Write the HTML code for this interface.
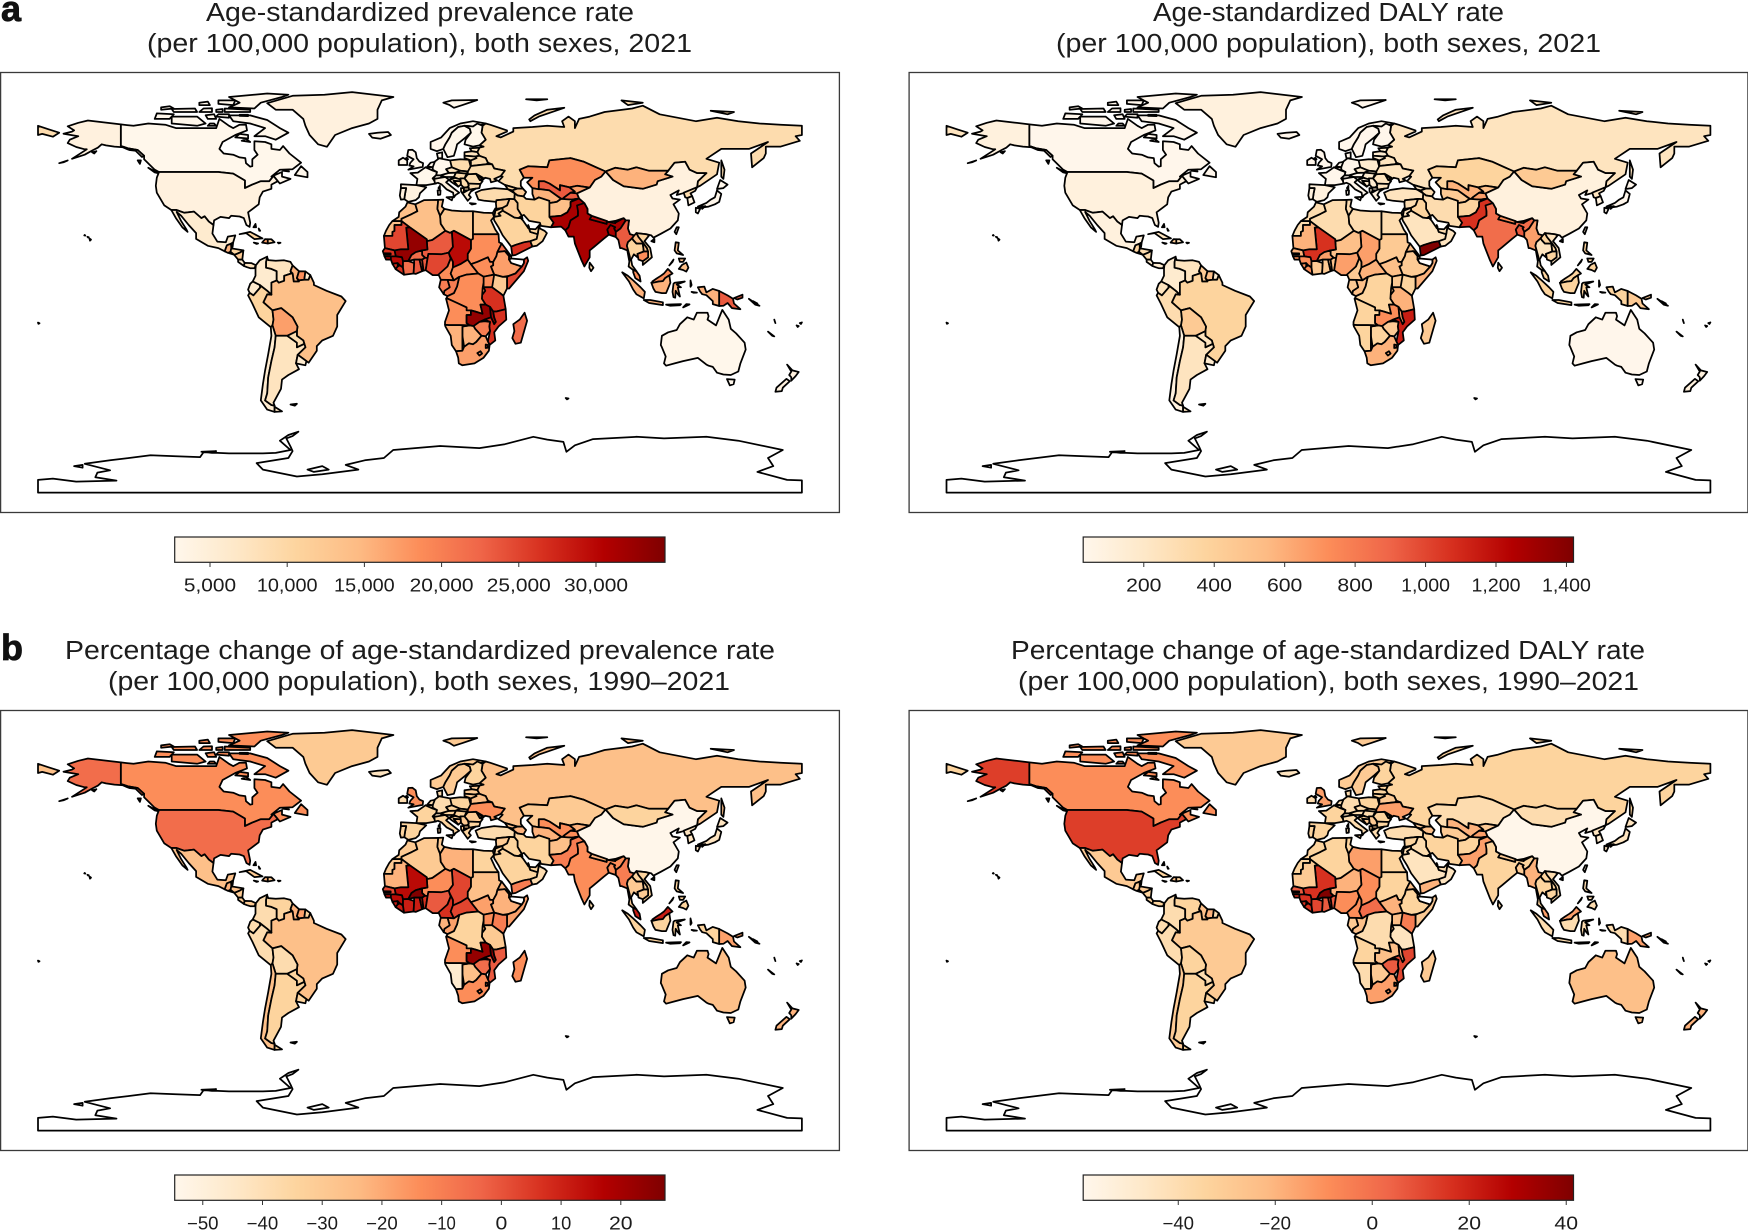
<!DOCTYPE html>
<html lang="en">
<head>
<meta charset="utf-8">
<title>Age-standardized prevalence and DALY rates, world maps</title>
<style>
html,body{margin:0;padding:0;background:#fff;}
body{width:1748px;height:1231px;overflow:hidden;}
svg{display:block;font-family:"Liberation Sans",sans-serif;}
</style>
</head>
<body>
<svg id="figure" xmlns="http://www.w3.org/2000/svg" width="1748" height="1231" viewBox="0 0 1748 1231">
<defs>
<linearGradient id="orrd" x1="0" x2="1" y1="0" y2="0">
<stop offset="0" stop-color="#fff7ec"/><stop offset="0.125" stop-color="#fee8c8"/><stop offset="0.25" stop-color="#fdd49e"/><stop offset="0.375" stop-color="#fdbb84"/><stop offset="0.5" stop-color="#fc8d59"/><stop offset="0.625" stop-color="#ef6548"/><stop offset="0.75" stop-color="#d7301f"/><stop offset="0.875" stop-color="#b30000"/><stop offset="1" stop-color="#7f0000"/>
</linearGradient>
</defs>
<text x="1" y="21" font-size="36" font-weight="700" fill="#111" stroke="#111" stroke-width="0.8">a</text>
<text x="1" y="660" font-size="36" font-weight="700" fill="#111" stroke="#111" stroke-width="0.8">b</text>
<g fill="#1c1c1c" font-size="25.5">
<text x="206" y="21" textLength="428" lengthAdjust="spacingAndGlyphs">Age-standardized prevalence rate</text>
<text x="147" y="52" textLength="545" lengthAdjust="spacingAndGlyphs">(per 100,000 population), both sexes, 2021</text>
<text x="1153" y="21" textLength="351" lengthAdjust="spacingAndGlyphs">Age-standardized DALY rate</text>
<text x="1056" y="52" textLength="545" lengthAdjust="spacingAndGlyphs">(per 100,000 population), both sexes, 2021</text>
<text x="65" y="659" textLength="710" lengthAdjust="spacingAndGlyphs">Percentage change of age-standardized prevalence rate</text>
<text x="108" y="690" textLength="622" lengthAdjust="spacingAndGlyphs">(per 100,000 population), both sexes, 1990–2021</text>
<text x="1011" y="659" textLength="634" lengthAdjust="spacingAndGlyphs">Percentage change of age-standardized DALY rate</text>
<text x="1018" y="690" textLength="621" lengthAdjust="spacingAndGlyphs">(per 100,000 population), both sexes, 1990–2021</text>
</g>
</svg>
<script>
// ---------- data: one value per country, same order as countryNames ----------
const countryNames = [
"Canada","USA","Greenland","Mexico","Guatemala","Belize","Honduras","El Salvador","Nicaragua","Costa Rica","Panama","Cuba","Haiti","Dominican Republic","Jamaica","Puerto Rico",
"Colombia","Venezuela","Guyana","Suriname","French Guiana","Brazil","Ecuador","Peru","Bolivia","Chile","Argentina","Paraguay","Uruguay","Falkland Islands",
"Russia","Norway","Sweden","Finland","Denmark","Iceland","Estonia","Latvia","Lithuania","Belarus","Poland","Germany","Netherlands","Belgium","France","Switzerland","Austria","Italy","Spain","Portugal","UK","Ireland","Czechia","Slovakia","Hungary","Romania","Moldova","Ukraine","Bulgaria","Greece","Albania","North Macedonia","Serbia","Bosnia","Croatia","Slovenia",
"Turkey","Georgia","Azerbaijan","Iran","Iraq","Syria","Jordan","Israel","Saudi Arabia","Yemen","Oman","UAE","Qatar","Kuwait",
"Kazakhstan","Uzbekistan","Turkmenistan","Kyrgyzstan","Tajikistan","Afghanistan","Pakistan","India","Nepal","Bhutan","Bangladesh","Sri Lanka","China","Mongolia","Taiwan","North Korea","South Korea","Japan",
"Myanmar","Thailand","Laos","Vietnam","Cambodia","Malaysia","Indonesia","Philippines","Papua New Guinea","Timor-Leste","Australia","New Zealand","Madagascar","Pacific Islands",
"Morocco","Western Sahara","Algeria","Tunisia","Libya","Egypt","Sudan","Chad","Niger","Mali","Mauritania","Senegal","Gambia","Guinea-Bissau","Guinea","Sierra Leone","Liberia","Ivory Coast","Burkina Faso","Ghana","Togo","Benin","Nigeria","Cameroon","Central African Republic","South Sudan","Eritrea","Ethiopia","Djibouti","Somalia","Somaliland","Kenya","Uganda","Rwanda-Burundi","Tanzania","DR Congo","Congo","Gabon","Angola","Zambia","Malawi","Mozambique","Zimbabwe","Botswana","Namibia","South Africa","Lesotho","Eswatini"
];
const prevalenceRate2021 = [
2800,4300,4300,5900,15400,9100,10700,12200,12200,5900,7500,10700,17000,10700,9100,5900,
5900,7500,15400,18600,5900,13800,5900,10700,17000,5900,7500,9100,5900,2800,
9100,2800,2800,2800,2800,2800,7500,7500,7500,9100,9100,2800,2800,2800,2800,2800,4300,4300,4300,4300,2800,2800,7500,9100,9100,9100,10700,9100,9100,5900,9100,9100,9100,9100,7500,5900,
9100,10700,12200,10700,12200,12200,10700,4300,10700,26500,10700,10700,10700,10700,
18600,23400,15400,17000,23400,13800,31300,31300,29700,15400,31300,9100,4300,15400,4300,9100,4300,2800,
23400,10700,13800,10700,18600,18600,15400,13800,23400,13800,2800,4300,21800,10700,
13800,13800,13800,13800,12200,12200,18600,29700,23400,32900,24900,26500,34400,31300,29700,26500,26500,21800,21800,23400,23400,23400,24900,18600,18600,18600,21800,17000,18600,24900,null,12200,18600,18600,26500,18600,20200,20200,18600,32900,31300,26500,20200,15400,15400,17000,18600,26500
];
const dalyRate2021 = [
35,100,100,100,375,240,305,375,305,170,170,240,445,240,240,100,
170,240,445,515,170,375,240,305,445,100,240,240,170,35,
240,35,35,35,35,35,170,170,170,240,170,35,35,35,35,35,35,35,100,100,35,35,170,170,170,240,240,240,240,100,170,170,170,170,100,100,
240,240,305,305,375,305,240,100,240,1415,240,305,305,305,
375,585,445,515,655,375,1070,865,725,445,935,240,100,445,100,240,100,35,
655,240,375,240,375,375,375,375,445,375,35,100,445,240,
305,305,305,305,305,305,445,655,515,1070,585,585,1415,725,725,725,725,445,655,445,515,515,655,445,585,515,515,445,515,585,null,375,445,515,585,375,515,445,375,725,655,1140,445,375,375,585,585,865
];
const prevalenceChange = [
-13.6,-5.4,-30,-26,-21.9,-30,-26,-26,-30,-30,-30,-30,-21.9,-30,-34.2,-34.2,
-38.3,-34.2,-21.9,-17.8,-34.2,-26,-38.3,-38.3,-38.3,-26,-34.2,-34.2,-34.2,-54,
-26,-30,-30,-34.2,-38.3,-42.4,-30,-30,-30,-26,-34.2,-38.3,-38.3,-38.3,-34.2,-42.4,-34.2,-34.2,-34.2,-34.2,-13.6,-38.3,-34.2,-34.2,-34.2,-30,-26,-13.6,-34.2,-34.2,-30,-30,-30,-26,-34.2,-34.2,
-38.3,-26,-21.9,-34.2,-34.2,-30,-34.2,-38.3,-34.2,-9.5,-38.3,-34.2,-34.2,-34.2,
-30,-13.6,-21.9,-21.9,-13.6,-26,-9.5,-13.6,-21.9,-30,-13.6,-38.3,-54,-34.2,-50.6,-42.4,-42.4,-42.4,
-9.5,-30,-34.2,-34.2,-30,11,-34.2,-34.2,-17.8,-38.3,-26,-21.9,-13.6,-34.2,
-30,-30,-30,-30,-21.9,-34.2,-26,2.8,-13.6,15,-21.9,2.8,19,15,15,11,11,11,27,11,11,6.9,-1.3,6.9,2.8,-17.8,-21.9,-21.9,-21.9,-17.8,null,-9.5,-13.6,-17.8,-30,-34.2,-17.8,-21.9,-13.6,23,23,-1.3,-5.4,-26,-46.5,-13.6,-13.6,-5.4
];
const dalyChange = [
-9,13,-29.3,-29.3,-29.3,-34.3,-29.3,-29.3,-34.3,-34.3,-34.3,-34.3,-24.2,-34.3,-39.4,-39.4,
-39.4,-34.3,-24.2,-19.2,-39.4,-29.3,-39.4,-39.4,-34.3,-29.3,-34.3,-39.4,-34.3,-59,
-34.3,-29.3,-29.3,-34.3,-39.4,-44.4,-34.3,-34.3,-34.3,-29.3,-34.3,-39.4,-39.4,-39.4,-34.3,-44.4,-39.4,-39.4,-34.3,-34.3,-14.1,-39.4,-39.4,-39.4,-39.4,-34.3,-29.3,-14.1,-34.3,-39.4,-29.3,-29.3,-29.3,-29.3,-34.3,-34.3,
-39.4,-29.3,-24.2,-34.3,-39.4,-34.3,-39.4,-39.4,-44.4,-19.2,-44.4,-39.4,-39.4,-39.4,
-39.4,-19.2,-29.3,-29.3,-14.1,-34.3,-14.1,-34.3,-29.3,-34.3,-29.3,-39.4,-59,-39.4,-54.5,-44.4,-49.5,-44.4,
-19.2,-34.3,-34.3,-39.4,-34.3,-14.1,-39.4,-39.4,-14.1,-39.4,-24.2,-19.2,-29.3,-39.4,
-34.3,-34.3,-34.3,-34.3,-14.1,-34.3,-34.3,-9,-19.2,16,-29.3,6,21,16,16,16,16,11,41,6,11,6,-9,-9,1,-19.2,-24.2,-34.3,-24.2,-29.3,null,-4,-24.2,-19.2,-44.4,-39.4,-24.2,-29.3,-34.3,-24.2,-19.2,11,6,-29.3,-39.4,-14.1,-14.1,6
];
const prevalenceTicks = [5000,10000,15000,20000,25000,30000];
const dalyTicks = [200,400,600,800,1000,1200,1400];
const prevalenceChangeTicks = [-50,-40,-30,-20,-10,0,10,20];
const dalyChangeTicks = [-40,-20,0,20,40];
const prevalenceDomain = [2714,34470];
const dalyDomain = [28,1420];
const prevalenceChangeDomain = [-54.7,27.4];
const dalyChangeDomain = [-59.6,41.5];
const orrdStops = ["#fff7ec","#fee8c8","#fdd49e","#fdbb84","#fc8d59","#ef6548","#d7301f","#b30000","#7f0000"];

// ---------- base map outlines, lon/lat pairs ----------
const geometry = {
"Canada":[[-141,69.6,-135,69,-128,70,-120,69.5,-115,68,-108,68,-100,68,-96,68,-94.5,72,-90,69,-88,68,-85,69.5,-82,69.5,-81.5,67,-87,65,-93,62,-94.5,59,-92.5,57,-88,56.5,-85,55.3,-82.3,55,-82,52.8,-80,51.3,-79,51.5,-79,54.5,-76.5,56.5,-78,58.5,-78,62.3,-73,62,-70,61,-70,59,-66,58.5,-64.5,60.2,-61.5,57,-56,53,-60,50.2,-66,50,-70,47,-65,49,-65,47,-61,46,-66,44,-67,45,-69,47.3,-71,45,-75,45,-79,43.5,-82.5,42,-82.5,45.3,-88,48.3,-95,49,-123,49,-125,50,-130,54.5,-130,56,-133,58.5,-137.5,59.2,-141,60.3],[-62,66,-68,63,-73,64.5,-78,64.5,-73,68,-80,70,-88,71,-90,73.5,-80,73.5,-72,71.5,-66,68],[-117,70,-105,69,-101,70,-105,73,-117,73],[-90,77,-78,76.5,-75,79,-65,81.5,-62,82.5,-72,83,-90,81.5,-85,79],[-125,72,-118,72,-116,74,-124,74.4],[-92,75,-80,75,-80,76,-92,76.5],[-116,75,-105,75,-106,76.5,-117,76.3],[-59,47.7,-53,46.7,-53,49,-56,51.5,-58,49],[-128,50.8,-123.5,48.5,-125,48.8],[-95,80,-87,80,-88,78,-95,78.5],[-100,72,-96,72,-97,74,-101,73.6],[-87,64,-81,63.5,-81,65,-85,65.5],[-133,54,-131.5,54,-132,52.5],[-122,76,-116,76.5,-118,77.5,-122,77],[-104,75,-98,75,-98,76.6,-102,76.5],[-96,75,-93,75,-93,76.3,-96,76],[-96,73,-90,72.5,-90,74,-95,74],[-104,78,-99,78,-100,79.5,-104,79],[-100,69,-96,69,-97,70,-99,70],[-84,62.5,-80,62,-82,63.3],[-64.5,49.5,-61.7,49.2,-62,49.8],[-85,73.3,-81,73.2,-81,73.8,-85,73.8]],
"USA":[[-123,49,-95,49,-88,48.3,-82.5,45.3,-82.5,42,-79,43.5,-75,45,-71,45,-69,47.3,-67,45,-70,43.5,-70,41.7,-74,40.5,-75.5,38,-76,35,-81,31.5,-80,27,-80.3,25.2,-81.8,26,-83,29,-85,29.7,-89,30,-90,29,-94,29.5,-97,28,-97.3,26,-99.5,27.5,-101.5,29.8,-103,29,-106.5,31.8,-111,31.3,-114.8,32.5,-117.2,32.5,-120.5,34.5,-124,40,-124.5,43,-124,46.5],[-141,69.6,-148,70.4,-156.5,71.3,-161,70.3,-166,68.8,-163,67,-164,66.5,-168,65.6,-161,64.5,-165,63,-166,61.5,-162,59.8,-158,58.8,-157,58.8,-164,54.7,-158,56.5,-154,58.5,-151.8,59.5,-150,61,-148,60.5,-144,60,-140,59.7,-137,58.5,-134,58.2,-131,55.5,-130,56,-133,58.5,-137.5,59.2,-141,60.3],[-155.5,19.2,-155,19.7,-155.8,20.2],[-158.2,21.5,-157.7,21.4,-158,21.7],[-156.7,20.9,-156.1,20.7,-156.4,20.6],[-154.5,57.5,-152.5,58,-153.5,57],[-170,52.8,-166,54,-168,53.2]],
"Greenland":[[-72,78.8,-60,82,-45,82.5,-32,83.6,-12.5,81.5,-18,80,-20,76,-20,72,-24,70,-32,68,-40,65,-43.8,59.9,-48,61,-52,65,-54,69,-55,72,-60,76,-68,76]],
"Mexico":[[-117.2,32.5,-114.8,32.5,-111,31.3,-106.5,31.8,-103,29,-101.5,29.8,-99.5,27.5,-97.3,26,-97.8,22.3,-95.5,18.8,-91.5,18.5,-90.5,21,-87,21.5,-88,18.5,-89,17.9,-91,17.2,-92,14.6,-95,16,-100,17,-105.5,20,-105.5,22.5,-109,26,-112.5,30,-114.7,31.7,-112.7,28,-110,24,-109.5,23,-112,25,-115,29]],
"Guatemala":[[-92,14.6,-91,17.2,-89,17.9,-88.8,15.9,-89.3,14.4,-90.5,13.9]],
"Belize":[[-89,17.9,-88,18.5,-88.3,16.5,-88.9,15.9]],
"Honduras":[[-88.9,15.9,-83.2,15,-85,14,-87.5,13.1,-89.3,14.4]],
"El Salvador":[[-90,13.8,-87.8,13.2,-89.3,14.4]],
"Nicaragua":[[-83.2,15,-83.7,11,-85.7,11,-87.5,13,-85,14]],
"Costa Rica":[[-83.7,11,-82.6,9.6,-83,8.3,-85.7,10,-85.7,11]],
"Panama":[[-82.6,9.6,-79.5,9.5,-77.3,8.6,-78,7.3,-80,7.3,-81.5,7.7,-83,8.3]],
"Cuba":[[-85,22,-80,23,-75,20.6,-74.2,20.2,-78,19.9,-82,22.5]],
"Haiti":[[-74.4,18.4,-71.7,18,-71.7,19.8,-73,19.9]],
"Dominican Republic":[[-71.7,18,-68.5,18.5,-70,19.8,-71.7,19.8]],
"Jamaica":[[-78.3,18.4,-76.3,18,-77,17.8]],
"Puerto Rico":[[-67,18.4,-65.7,18.3,-66.5,18],[-78.5,25,-77.5,26.5,-77.2,25],[-76,24.5,-75.3,23.5,-75.7,23.5]],
"Colombia":[[-77.3,8.6,-75.5,10.7,-72,12.3,-72.5,10,-72.5,7.5,-70,7,-67.5,6,-67.5,2,-70,1,-70,-4.2,-72,-2.5,-75.5,0,-78.8,1.5,-77.5,4,-77.5,7]],
"Venezuela":[[-72,12,-71.5,10.8,-68,10.5,-64,10.7,-61,10,-60,8.5,-61,6,-60.7,5,-64,4,-64,1.8,-66.5,1,-67.5,2,-67.5,6,-70,7,-72.5,7.5,-72.5,10]],
"Guyana":[[-60,8.5,-57,6,-58,3,-57,1.5,-59.5,1.5,-60,5,-61,6]],
"Suriname":[[-57,6,-54,5.9,-54.5,2.3,-57,2,-58,3]],
"French Guiana":[[-54,5.9,-51.7,4.3,-52.5,2.3,-54.5,2.3]],
"Brazil":[[-51.7,4.3,-50,1,-50,0,-44,-2.5,-37,-5,-35,-7,-39,-13,-39,-18,-41,-22,-46,-24,-48.6,-26.5,-48.6,-28.5,-52.5,-33.7,-53.5,-33,-57.6,-30.2,-54,-27,-54.5,-25.5,-55,-24,-58,-22,-58,-20,-57.7,-18,-60,-14,-65.4,-10,-69.5,-11,-73.8,-7.5,-72,-4,-70,-4.2,-70,1,-67.5,2,-66.5,1,-64,1.8,-64,4,-60.7,5,-60,5,-59.5,1.5,-57,1.5,-57,2,-54.5,2.3,-52.5,2.3]],
"Ecuador":[[-78.8,1.5,-75.5,0,-75.2,-1,-78.5,-4.5,-80.3,-3.4,-81,-2,-80,0.5]],
"Peru":[[-81,-4.5,-80.3,-3.4,-78.5,-4.5,-75.2,-1,-75.5,0,-72,-2.5,-70,-4.2,-72,-4,-73.8,-7.5,-69.5,-11,-69,-15,-69.5,-17.5,-70.3,-18.3,-76,-14,-79,-8]],
"Bolivia":[[-69.5,-11,-65.4,-10,-60,-14,-57.7,-18,-58,-20,-62.5,-22,-66,-22,-68,-22,-69.5,-17.5,-69,-15]],
"Chile":[[-70.3,-18.3,-69.5,-17.5,-68,-22,-68.5,-27,-70,-33,-71.5,-40,-72,-47,-73,-50,-70,-52,-68.5,-52.3,-68.5,-55,-72,-54,-75,-50,-74,-43,-73,-37,-71.5,-30,-70,-22]],
"Argentina":[[-68,-22,-66,-22,-62.5,-22,-58,-25,-58,-27,-54.5,-25.5,-54,-27,-57.6,-30.2,-58.4,-34,-57,-36.5,-62,-39,-65,-41,-65.5,-45,-69,-51,-68.5,-52.3,-70,-52,-73,-50,-72,-47,-71.5,-40,-70,-33,-68.5,-27],[-68.5,-52.8,-65,-54.8,-68.5,-55]],
"Paraguay":[[-62.5,-22,-58,-20,-58,-22,-55,-24,-54.5,-25.5,-58,-27,-58,-25]],
"Uruguay":[[-58.4,-34,-57.6,-30.2,-53.5,-33,-54,-34.8]],
"Falkland Islands":[[-61,-51.8,-58,-51.5,-59,-52.3]],
"Russia":[[31,70,33,69.5,41,67,41,66.5,36,64.5,38,64,44,66.5,44,68,53,68.5,60,69,68,68.5,67,71,70,73,73,71,73,68,75,72,80,73,87,75,100,76.5,105,77.7,113,74,130,71,140,72.5,150,71,160,70,170,69.5,180,69,180,65,177,64.5,179,62.5,170,60,163,60,163,57,162,55,156.5,51,156,57,164,62,155,59,142,59,135,54.7,141,53,140,48,132,43,130.6,42.4,131,45,135,48.5,130.5,48.5,127,50,125,53.4,120,53,117,49.5,108,49.5,102,51,98,50,92,50.8,87.5,49.2,83,51,77,53.5,71,55,61,54,60,51,51,51.5,47,50,49,46.5,47.5,45,47.5,43,48.5,41.8,46,41.8,40,43.4,37,45,39,47,38,47.2,40,49.6,35,50.5,34,52.3,32,53,31,55,28,56,27,57.6,28,59.5,30,60,28,60.5,31,63,29,66,29.5,69],[-180,69,-175,67.5,-170,66,-173,64.3,-178,65.5,-180,65],[142,54,143.5,50,143,46,142,47,142,51],[52,71,56,73,68,76.8,60,76,54,73.5,51.5,71.8],[95,80,105,79,98,78],[137,75.5,148,75,145,74],[50,80.5,60,80.5,55,80]],
"Norway":[[5,59,8,58,11,59,12,61,14,64,15,66,18,68.5,21,69,25,68.7,29,69.5,31,70,25,71,19,70,14,68,10,64,5,62],[11,79,15,80,27,80.2,20,78,16,76.8,14,78]],
"Sweden":[[11,59,13,55.4,16,56,17,59,17.5,61,21.5,64,24,66,23.5,67.8,21,69,18,68.5,15,66,14,64,12,61]],
"Finland":[[21,69,23.5,67.8,24,66,21.5,63,21,61,25,60,28,60.5,31,63,29,66,29.5,69,27,70,25,68.7]],
"Denmark":[[8,57,10.5,57.5,10.5,55,8.5,54.9]],
"Iceland":[[-24,65.5,-20,66,-15,66.3,-13.7,65,-18.5,63.4,-22.5,63.9]],
"Estonia":[[23.5,59.3,28,59.5,27,57.6,24.5,58]],
"Latvia":[[21,57.5,24.5,58,27,57.6,28,56,26,55.7,21,56]],
"Lithuania":[[21,56,26,55.7,26.7,55,24,54,21,55]],
"Belarus":[[24,54,26.7,55,26,55.7,28,56,31,55,32,53,31.5,52.4,24,51.6]],
"Poland":[[14.2,54,19,54.5,23,54.3,24,51,22.6,49.2,19,49.5,15,51,14.2,53]],
"Germany":[[7,53.5,9,54.9,14.2,54,15,51,12.3,50.2,13.7,48.6,10,47.5,7.6,47.6,8,49,6,50,6,51.8]],
"Netherlands":[[3.5,51.4,6,51,7,53.4,5,53]],
"Belgium":[[2.6,51,6,51,6,49.6,4,50]],
"France":[[-4.5,48.5,-1,48.7,2.6,51,6,49.6,8,49,7.6,47.6,6,46.2,7.6,44,3,43.3,-1.7,43.3,-1.2,46],[9.4,43,9.4,41.5,8.7,42],[68.7,-49,70,-49.2,69.3,-49.6]],
"Switzerland":[[6,46.2,7.6,47.6,10,47.5,10,46]],
"Austria":[[9.6,47.5,13.7,48.6,17,48.7,16,46.8,12,46.8]],
"Italy":[[7,44,6.8,46,10,46.5,12,46.8,13.7,45.6,12.3,44.5,16,41.8,18.5,40,16.8,39,16,38,15.6,40,12.5,41.5,10.3,43.5,8.5,44.3],[12.5,38,15.5,38.2,15,36.7],[8.3,41,9.7,41,9.6,39.2,8.5,39]],
"Spain":[[-9,43.7,-1.7,43.3,3,42.4,0,39.8,-0.5,38,-2,36.8,-5.5,36,-7.4,37.2,-7,39.7,-6.5,42,-9,42]],
"Portugal":[[-9,42,-6.5,42,-7,39.7,-7.4,37.2,-9,37,-9.5,38.8]],
"UK":[[-5.5,50,1.3,51.2,1.5,52.8,-0.2,53.5,-1.5,55,-2,57.5,-3.5,58.6,-5.5,58.5,-6,56,-3,54.5,-4.5,53,-5,51.8,-3,51.4],[-8,54.2,-5.6,54.5,-6.2,55.2]],
"Ireland":[[-10,52,-6,52,-6,54,-8,55.2,-10,54]],
"Czechia":[[12.3,50.2,15,51,19,49.5,17,48.7,13.7,48.6]],
"Slovakia":[[17,48.7,19,49.5,22.6,49.2,22,48.3,18,47.8]],
"Hungary":[[16,46.8,17,48.7,22,48.3,21,46.2,18.5,45.8]],
"Romania":[[21,46.2,22.5,48,26.5,48.2,28.2,45.5,29.5,45,28.5,43.8,23,43.8,22.5,44.5]],
"Moldova":[[26.5,48.2,29.5,46,28.2,45.5]],
"Ukraine":[[24,51.6,31.5,52.3,34,52.3,35,50.5,40,49.6,38,47.2,35,46,36.5,45.3,33.5,44.5,33,46,30.7,46.5,29.5,45.5,28.2,45.5,29.7,46.5,26.5,48.2,22.5,48,22.6,49.2]],
"Bulgaria":[[22.5,44,28.5,43.8,28,42,26.3,41.8,23,41.3]],
"Greece":[[20,39.7,23,41.3,26.3,41.8,24,40.5,23,39,24,38,22.5,36.5,21.3,38],[23.5,35.5,26.3,35.2,24.5,34.9]],
"Albania":[[19.3,42,20.7,42,20.7,40.8,20,39.7,19.4,40.5]],
"North Macedonia":[[20.7,42.2,23,42.2,23,41.3,20.7,40.9]],
"Serbia":[[19,46.2,21,46.2,22.5,44.5,23,43,22,42.3,20.5,42.3,19.3,43.5,19.2,45]],
"Bosnia":[[15.8,45.2,19.2,45,19.3,43.5,18,42.6]],
"Croatia":[[13.7,45.5,16,46.5,19,45.8,19.2,45,15.8,45.2,18,42.6,15,44.5]],
"Slovenia":[[13.7,45.6,16,46.8,16,46.2,13.7,45.5]],
"Turkey":[[26.2,40,29,41.2,35,42,41.5,41.5,44.7,39.7,44.5,37.2,42.2,37.3,36,36.7,36,36,30.5,36.5,27.5,37]],
"Georgia":[[40,43.4,46,41.8,43.5,41,41.5,41.5]],
"Azerbaijan":[[43.5,41,46,41.8,48.5,41.8,50,40.3,48.8,38.4,46,38.8,44.7,39.7]],
"Iran":[[44.7,39.7,46,38.8,48.8,38.4,50,37.3,54,37,56,38,61,36.5,61,31.5,63,27,61.7,25,57,25.6,56.5,27,51.5,27.8,49,30.4,48,30,46,33,46,35.5,44.5,37.2]],
"Iraq":[[42.2,37.3,44.5,37.2,46,35.5,46,33,48,30,46.5,29,44.5,29.2,39,32.2,38.8,33.4,41,34.5]],
"Syria":[[36,36.7,42.2,37.3,41,34.5,38.8,33.4,36,33,35.8,35.5]],
"Jordan":[[35.5,32.2,38.8,33.4,39,32.2,37,31,38,30,35,29.5]],
"Israel":[[35.5,33.2,36,33,35.5,32.2,35,29.5,34.3,31.2]],
"Saudi Arabia":[[34.8,29,35,29.5,38,30,37,31,39,32.2,44.5,29.2,46.5,29,47.5,29,48.5,28,50,26,51,24.7,51.5,24.3,52,23,55.5,22,55,20,52,19,49,18.5,45,17.4,43,16.6,42.7,17,39,21.5,37,25,35,28]],
"Yemen":[[43,16.6,45,17.4,49,18.5,52,19,53,16.7,45,13,43.5,12.8]],
"Oman":[[52,19,55,20,55.5,22,55.8,24,56.3,26,56.5,24.5,58.7,23.5,59.8,22.5,57.8,19,55,17,53,16.7]],
"UAE":[[51.5,24.3,54.5,24.2,56.3,26,55.8,24,55.5,22,52,23]],
"Qatar":[[51,26,51.5,25,51,24.7]],
"Kuwait":[[47.5,29,48.3,28.8,48,30,46.7,29.2]],
"Kazakhstan":[[47,50,51,51.5,60,51,61,54,71,55,77,53.5,83,51,87.5,49.2,85.5,47,82.5,45.5,80,42.2,74,43,70.5,42.3,66,43.3,66,41,61,44,58.5,45,56,45,56,41.5,53,42,50.5,44.5,53,46.5,49,46.5]],
"Uzbekistan":[[56,45,58.5,45,61,44,66,41,66,43.3,70.5,42.3,73,40.5,71,40,68,38,67,37.2,64,39,61,41,57,41.5,56,41.5]],
"Turkmenistan":[[53,42,56,41.5,57,41.5,61,41,64,39,66.5,37.3,64.5,36,61,35.5,61,36.5,56,38,54,37,53,39.5]],
"Kyrgyzstan":[[70.5,42.3,74,43,80,42.2,74,39.7,71,40,73,40.5]],
"Tajikistan":[[68,38,71,40,74,39.7,75,37.5,71.5,37,68,37.2]],
"Afghanistan":[[61,35.5,64.5,36,66.5,37.3,71.5,37,75,37.5,71,36,71,34,69.5,31.5,66.5,30,61,29.5,61,31.5]],
"Pakistan":[[61,29.5,66.5,30,69.5,31.5,71,34,71,36,75,37.5,77.5,35.5,74.5,32,74.5,30,71,28,70,25,68.5,23.7,66.5,25.3,61.7,25,63,27]],
"India":[[74,34.5,77.5,35.5,79,33,79,31,81,30,80,28.5,88,26.5,88,27.8,92,27,96,29,97,28,94.5,24.5,92.3,23,91.5,24.5,92,25,89.8,26,88.3,24,89,21.8,86.5,20,82,16.5,80,15,80,12,77.5,8,76,11,73,18,72.5,21,70,21,68.5,23.7,70,25,71,28,74.5,30,74.5,32]],
"Nepal":[[80,28.5,81,30,88,27.8,88,26.5]],
"Bhutan":[[88.8,27.3,92,27.8,92,26.8]],
"Bangladesh":[[88.3,24,89.8,26,92,25,91.5,24.5,92.3,23,92.3,20.8,89,21.8]],
"Sri Lanka":[[80,9.7,81.8,7.5,80.6,6,79.8,7.5]],
"China":[[74,39.7,80,42.2,82.5,45.5,85.5,47,87.5,49.2,91,45.5,96,42.8,105,41.7,111.5,43.5,112,45,119,47,115.5,48,117,49.5,120,53,125,53.4,127,50,130.5,48.5,135,48.5,131,45,130.6,42.4,125,40,121,39,122,41,118,39,119,37.5,122.5,37,119.5,35,122,31,121.5,28,118,24.5,113.5,22.2,110,20.5,109,21.5,106.7,22,102,22.5,101.5,21.2,99,22,98,24.5,98.5,28,97,28,96,29,92,27.8,88.8,27.3,88,27.8,81,30,79,31,79,33,77.5,35.5,75,37.5],[109,19,110.5,20,110.5,18.5]],
"Mongolia":[[87.5,49.2,92,50.8,98,50,102,51,108,49.5,117,49.5,115.5,48,119,47,112,45,111.5,43.5,105,41.7,96,42.8,91,45.5]],
"Taiwan":[[121,25,122,25,120.8,22,120,23]],
"North Korea":[[124.3,40,130.6,42.4,129.7,40.8,127.5,39.7,128.3,38.5,126,37.7,125,38]],
"South Korea":[[126,37.7,128.3,38.5,129.4,35.8,126.5,34.5]],
"Japan":[[131,34,135,35.6,137,37,139,38,140,41,142,39.5,141,36,139,35,136,34,132,33.5],[140,41.6,141.5,45.5,145,43.5,143,42],[130,33.5,132,33,131,31,130,31.5],[132.5,34,134.5,34.2,133,33]],
"Myanmar":[[92.3,20.8,92.3,23,94.5,24.5,97,28,98.5,28,98,24.5,99,22,101,21.5,100,20.3,98,18.5,97.5,17,99,12,98.7,10,97.7,15,95,16,94.3,16,93.5,19.5]],
"Thailand":[[100,20.3,100.5,19.5,102,18,105,18,105.5,14.5,102.5,13.5,102.5,12,100.8,13.3,99.5,11,100,8.5,102,6,100.5,6.5,98.3,8,99,12,97.5,17,98,18.5]],
"Laos":[[101,21.5,102,22.5,103,20.8,105,18.5,107,16,107.5,14.5,105.5,14.5,105,18,102,18,100.5,19.5,100,20.3]],
"Vietnam":[[102,22.5,106.7,22,108,21.5,105.8,19,108.5,16,109.3,12,106.7,10,105,8.7,105,10.3,107.5,12,107.5,14.5,107,16,105,18.5,103,20.8]],
"Cambodia":[[102.5,13.5,105.5,14.5,107.5,14.5,107.5,12,105,10.3,103,11]],
"Malaysia":[[100.5,6.5,102,6,103.5,4,104,1.5,101.5,3,100.5,5.5],[109.5,1.5,111.5,2.8,113.5,4,115,5,116.8,7,119,5,117.5,4.2,115.5,3,114.5,1.7,112.5,1.5,110,1]],
"Indonesia":[[109,1,110,1,112.5,1.5,114.5,1.7,115.5,3,117.5,4.2,118,1,116,-3.5,114,-3.5,111,-3,110,-1.5],[95.3,5.5,98,4,100.5,2,104,-1,106,-3,105.5,-5.8,102,-4,100.5,-2,98.5,1.5],[105.5,-6.5,108.5,-6.5,114.5,-7.5,114.5,-8.7,108,-7.8],[119.5,0.5,120,1,124.8,1.5,121,0.2,123,-1,121.5,-1,122.5,-5,121.5,-4,120.5,-2.5,120.3,-5.5,119.5,-5.3,119,-3],[116,-8.5,119,-8.4,123,-8.3,122.5,-8.8,118,-9],[131,-1,134,-0.7,135,-3.2,138,-1.7,141,-2.6,141,-9.1,138,-8.3,138,-7,135,-4.4,133,-4,132,-2.8],[127.5,2,128,0,127.5,-0.8],[128,-3,130.5,-3.3,129,-3.4]],
"Philippines":[[120.5,18.5,122,18.3,121.5,15,124,13,121,13.7,120,15],[122,7,123.5,8.7,125.5,9.7,126.5,7.5,125.5,5.8,124,6.5],[122,11.5,125,11.5,124,10,122.5,10],[117.5,8.5,119.5,11,119,10]],
"Papua New Guinea":[[141,-2.6,145,-4.5,147.5,-6,148,-8,151,-10.5,147,-10,145,-7.8,143,-9,141,-9.1],[148,-5.7,152,-4.2,152,-5.5,149.5,-6.3]],
"Timor-Leste":[[124,-9.7,127,-8.4,125.5,-8.3]],
"Australia":[[113.5,-26,114,-22,117,-20.5,121,-19.5,122.5,-17,126,-14,129,-15,130.5,-12,135.5,-12,136,-13.5,135.5,-15,139.5,-17.5,141.5,-13,142.5,-10.8,145.5,-15,146.5,-19,149,-21,153,-25,153.5,-28,151,-34,150,-37.5,146.5,-39,143,-38.8,140,-38,138,-35.5,136,-35,135,-34.5,131,-31.6,124,-33,120,-34,116,-35,115,-34,115.8,-31,114,-27],[144.7,-40.8,148.3,-41,147.8,-43,146,-43.5]],
"New Zealand":[[173,-34.5,175.5,-37,178.5,-37.7,177,-39.5,175,-41.5,175,-40,174,-39,175,-37.5],[172.7,-40.7,174.3,-41.7,171,-44.5,170.5,-46,167.5,-46.3,168,-44.5]],
"Madagascar":[[49.3,-12,50.5,-15.5,47.5,-25,45,-25.5,43.5,-23,44.5,-20,44,-17,47,-15]],
"Pacific Islands":[[155,-6,160,-9,158,-8.5],[157,-7,159,-8,158,-7.8],[167,-15,167.5,-16.5,167.2,-15.8],[164,-20.2,167,-22.3,166,-22],[177.5,-17.5,178.5,-17.8,178,-18.2],[179,-16.5,180,-16.2,179.5,-16.9],[-180,-16.3,-179.3,-16.6,-179.8,-16.8]],
"Morocco":[[-5.9,35.8,-2.2,35,-1.2,32,-3.7,30.8,-8.7,28.7,-8.7,27.7,-13,27.7,-10,29.5,-9.8,31.5,-6.8,34]],
"Western Sahara":[[-13,27.7,-8.7,27.7,-8.7,26,-12,26,-12,23.4,-13,23,-13,21.3,-17,21.3,-16,23.5,-14.5,26]],
"Algeria":[[-2.2,35,2,36.8,8.6,36.9,8.2,33,9.5,30,9.8,26.5,12,23.5,5.8,19.5,3.2,19,3.2,19.8,-4.8,25,-8.7,27.7,-8.7,28.7,-3.7,30.8,-1.2,32]],
"Tunisia":[[8.6,36.9,11,37,10.3,34,11.5,33,9.5,30,8.2,33]],
"Libya":[[11.5,33,15,32.3,20,32,25,32,25,20,24,19.5,16,23.5,14.2,22.6,12,23.5,9.8,26.5,9.5,30]],
"Egypt":[[25,32,30,31.3,34.3,31.2,34.9,29.5,33.5,28,35.5,24,37,22,25,22]],
"Sudan":[[25,22,37,22,37.3,18.5,38.5,18,36.5,14.3,36,12.5,34.5,10,33,10,32,12,27,10,24,9,22.5,11,22.5,13.5,24,15.7,24,19.5,25,20]],
"Chad":[[16,23.5,24,19.5,24,15.7,22.5,13.5,22.5,11,19,9,15.5,7.6,15.5,10,14,12.8,13.5,14,15.5,16.5,15,23]],
"Niger":[[12,23.5,14.2,22.6,15,23,15.5,16.5,13.5,14,10,13.3,4,13.5,3.6,11.7,2.4,11.8,1,13,1,15,3.5,15.4,3.2,19,5.8,19.5]],
"Mali":[[-4.8,25,3.2,19.8,3.2,19,3.5,15.4,1,15,-2,14.2,-4,13,-5.5,10.4,-8,10.3,-8.5,12,-11.4,12.4,-12,15,-9,15.5,-5.5,15.5,-6.5,24.9]],
"Mauritania":[[-17,21.3,-13,21.3,-13,23,-12,23.4,-12,26,-8.7,26,-8.7,27.7,-4.8,25,-6.5,24.9,-5.5,15.5,-9,15.5,-12,15,-16.5,16]],
"Senegal":[[-16.5,16,-12,15,-11.4,12.4,-16.7,12.4,-17.5,14.7]],
"Gambia":[[-16.8,13.8,-13.8,13.7,-13.8,13.2,-16.8,13.2]],
"Guinea-Bissau":[[-16.7,12.4,-13.7,12.4,-13.7,11,-16,11]],
"Guinea":[[-13.7,12.4,-11.4,12.4,-8.5,12,-8,10.3,-8,7.6,-9.5,8.5,-10.5,9.5,-13,9.2,-13.7,11]],
"Sierra Leone":[[-13,9.2,-10.5,9.5,-10.5,8,-11.5,6.9]],
"Liberia":[[-11.5,6.9,-10.5,8,-9.5,8.5,-8,7.6,-7.5,4.4]],
"Ivory Coast":[[-8,7.6,-8,10.3,-5.5,10.4,-2.7,9.5,-3,5,-7.5,4.4]],
"Burkina Faso":[[-5.5,10.4,-4,13,-2,14.2,1,15,1,13,2.4,11.8,1,11,-0.2,11,-2.8,11]],
"Ghana":[[-2.8,11,-0.2,11,1,6,-2,4.8,-3,5,-2.7,9.5]],
"Togo":[[-0.2,11,1,11,1.7,6.2,1,6]],
"Benin":[[1,11,2.4,11.8,3.6,11.7,2.7,6.4,1.7,6.2]],
"Nigeria":[[2.7,6.4,3.6,11.7,4,13.5,10,13.3,13.5,14,14.5,11.5,13,8,9,4.3,6,4.3]],
"Cameroon":[[8.7,4.5,13,8,14.5,11.5,14,12.8,15.5,10,15.5,7.6,14.5,5,16,2,13,2.2,9.8,2.3,9,4]],
"Central African Republic":[[14.5,5,15.5,7.6,19,9,22.5,11,24,9,27.5,5,22,4.5,18.5,3.5,16,2]],
"South Sudan":[[24,9,27,10,32,12,33,10,34.5,10,34.5,8.5,33.5,8,35,4.5,30,3.6,27.5,5]],
"Eritrea":[[36.5,14.3,38.5,18,43,12.5,40,14.7]],
"Ethiopia":[[36,12.5,36.5,14.3,40,14.7,42,12.5,42,11,43,9.5,48,8,45,5,42,4,39,3.5,35,4.5,33.5,8,34.5,8.5,34.5,10]],
"Djibouti":[[42,12.5,43,12.5,43,11.5,42,11]],
"Somalia":[[50.5,12,51,10.5,49,6,42,-1.5,41,-1.5,41,3.5,42,4,45,5,48,8,49,9.5,49,11]],
"Somaliland":[[43,11.5,49,11,49,9.5,48,8,43,9.5,42,11]],
"Kenya":[[34,4.2,35,4.5,39,3.5,41,3.5,41,-1.5,39.3,-4.7,37.7,-3.5,34,-1]],
"Uganda":[[30,3.6,35,4.5,34,-1,30,-1,30,1]],
"Rwanda-Burundi":[[29,-1.4,30.8,-1.4,30.8,-4.4,29.2,-4.4]],
"Tanzania":[[30,-1,34,-1,37.7,-3.5,39.3,-4.7,40.4,-10.5,36,-11.5,34.5,-11.5,33,-9.5,31,-8.5,29.2,-6,29.2,-4.4,30.8,-2.5]],
"DR Congo":[[12.3,-6,13,-4.8,16,-3.5,17.5,-0.5,18.5,3.5,22,4.5,27.5,5,30,3.6,30,1,29.5,-1.4,29.2,-6,31,-8.5,28.5,-8.5,29.5,-12.5,26,-11.5,24,-11,22,-11,22,-9.7,18,-8,13,-5.9]],
"Congo":[[11.2,-4,13,-4.8,16,-3.5,17.5,-0.5,18.5,3.5,16,2,13,2.2,14,-1,11.5,-2.5]],
"Gabon":[[9.5,1,9.8,2.3,13,2.2,14,-1,11.5,-2.5,11.2,-4,9,-1]],
"Angola":[[13,-5.9,18,-8,22,-9.7,22,-11,24,-11,24,-13,22,-13,22,-16.5,23.5,-17.5,18.5,-17.4,13.5,-17.4,11.8,-17.2,11.8,-16,13.7,-11,12.3,-6]],
"Zambia":[[22,-13,24,-13,24,-11,26,-11.5,29.5,-12.5,28.5,-8.5,31,-8.5,33,-9.5,33.5,-14,30.5,-15,28,-16,25.3,-17.8,23.5,-17.5,22,-16.5]],
"Malawi":[[33,-9.5,34.5,-11.5,35,-14,35.8,-16,35,-17,33.5,-14]],
"Mozambique":[[34.5,-11.5,36,-11.5,40.4,-10.5,40.7,-15,37,-18,35,-20.5,35.5,-24,32.8,-26,32,-24.5,33,-20,32.7,-18,33,-16,30.5,-15,33.5,-14,35,-17,35.8,-16,35,-14]],
"Zimbabwe":[[25.3,-17.8,28,-16,30.5,-15.7,33,-16,32.7,-18,33,-20,31,-22.3,29,-22,26,-19]],
"Botswana":[[20,-18,23.5,-17.5,25.3,-17.8,26,-19,29,-22,26.5,-24.7,25,-25.7,23,-25.3,20.8,-26.8,20,-22]],
"Namibia":[[11.8,-17.2,13.5,-17.4,18.5,-17.4,23.5,-17.5,20,-18,20,-22,20,-28.5,17,-28.7,15,-26,14.5,-22,12,-18]],
"South Africa":[[17,-28.7,20,-28.5,20.8,-26.8,23,-25.3,25,-25.7,26.5,-24.7,29,-22,31,-22.3,32,-24.5,32.8,-26,32.5,-28.5,30,-31.5,25.7,-34,20,-34.8,18.3,-34,18,-31.5]],
"Lesotho":[[27,-29.5,28.5,-28.7,29.3,-29.7,28,-30.6]],
"Eswatini":[[31,-25.8,32,-26,32,-27.2,31,-27.3]]
};
const antarcticaOutline = [
[-180,-90,-180,-84.5,-173,-83.9,-162,-85.2,-143,-84.8,-153,-83.3,-152,-81.3,-146,-80.3,-158,-77.5,-146,-76,-127,-73.8,-115,-74.2,-103.6,-74.6,-102,-72.5,-90,-73,-74,-73,-68,-72.8,-61,-71.5,-66,-67.5,-62,-65,-57.3,-63.6,-60,-65.5,-63,-66.5,-61,-70,-60,-72,-62,-75,-77,-77.2,-74,-80,-58,-83,-46,-82,-29,-80,-35,-78,-26,-76,-17,-75,-12.6,-71.5,9.5,-69.8,28,-70.7,40,-69,53.4,-65.8,60,-67,67.6,-68,69,-72.3,73,-69.5,81.6,-66.8,102,-65.8,115,-66.5,135,-65.8,150,-67.5,171,-71.5,164,-75,166.5,-78.5,159,-81,173,-84.5,180,-84.7,180,-90],
[-53,-80,-46,-78.5,-43,-80,-50,-81],
[-163,-78.5,-159,-78,-159,-79.2],
[-103,-72.3,-96,-72,-98,-72.8]
];

// ---------- axis functions ----------
function xScale(lon){ return 38 + (lon + 180) * 2.122; }
function yScale(lat){ return 285 - lat * 2.307; }
function colorAt(t){
  const clamped = Math.min(1, Math.max(0, t));
  const pos = clamped * (orrdStops.length - 1);
  const i = Math.min(orrdStops.length - 2, Math.floor(pos));
  const f = pos - i;
  const parse = h => [1,3,5].map(k => parseInt(h.substr(k,2),16));
  const a = parse(orrdStops[i]), b = parse(orrdStops[i+1]);
  return 'rgb(' + a.map((v,k) => Math.round(v + (b[k]-v)*f)).join(',') + ')';
}
function pathFromRings(rings){
  return rings.map(ring => {
    let d = '';
    for(let i = 0; i < ring.length; i += 2){
      d += (i ? 'L' : 'M') + xScale(ring[i]).toFixed(1) + ' ' + yScale(ring[i+1]).toFixed(1);
    }
    return d + 'Z';
  }).join('');
}
function tickLabel(v){
  const s = Math.abs(v).toString().replace(/\B(?=(\d{3})+$)/g, ',');
  return (v < 0 ? '\u2212' : '') + s;
}
function labelWidth(s){
  let w = 0;
  for(const c of s){
    w += c === ',' ? 5 : c === '\u2212' ? 8 : c === '1' ? 8.5 : 11.8;
  }
  return w;
}

const NS = 'http://www.w3.org/2000/svg';
const figure = document.getElementById('figure');
function make(tag, attrs, parent){
  const el = document.createElementNS(NS, tag);
  for(const k in attrs){ el.setAttribute(k, attrs[k]); }
  parent.appendChild(el);
  return el;
}

function drawPanel(key, offsetX, offsetY, values, domain, ticks){
  const panel = make('g', {transform:'translate(' + offsetX + ',' + offsetY + ')'}, figure);
  
  

  const frame = make('rect', {x:0.6, y:72.5, width:838.8, height:440, fill:'#fff', stroke:'#3a3a3a', 'stroke-width':1.3}, panel);
  
  

  const map = make('g', {stroke:'#000', 'stroke-width':1.75, 'stroke-linejoin':'round'}, panel);
  
  

  countryNames.forEach((name, i) => {
    const v = values[i];
    const fill = v === null ? '#ffffff' : colorAt((v - domain[0]) / (domain[1] - domain[0]));
    const p = make('path', {d:pathFromRings(geometry[name]), fill:fill}, map);
    
    
  });
  const ant = make('path', {d:pathFromRings(antarcticaOutline), fill:'#ffffff'}, map);
  
  

  const barX0 = 174.7, barX1 = 665;
  const barScale = v => barX0 + (v - domain[0]) / (domain[1] - domain[0]) * (barX1 - barX0);
  const bar = make('rect', {x:barX0, y:537, width:barX1-barX0, height:25.3, fill:'url(#orrd)', stroke:'#222', 'stroke-width':1.2}, panel);
  
  

  ticks.forEach(t => {
    const x = barScale(t);
    const tick = make('line', {x1:x, x2:x, y1:562.3, y2:567, stroke:'#333', 'stroke-width':1}, panel);
    
    
    const s = tickLabel(t);
    const w = labelWidth(s);
    const label = make('text', {x:x - w/2, y:591.5, 'font-size':18, fill:'#1c1c1c', textLength:w, lengthAdjust:'spacingAndGlyphs'}, panel);
    label.textContent = s;
    
    
  });
}

drawPanel('prevalence', 0, 0, prevalenceRate2021, prevalenceDomain, prevalenceTicks);
drawPanel('daly', 908.5, 0, dalyRate2021, dalyDomain, dalyTicks);
drawPanel('prevalence-change', 0, 638, prevalenceChange, prevalenceChangeDomain, prevalenceChangeTicks);
drawPanel('daly-change', 908.5, 638, dalyChange, dalyChangeDomain, dalyChangeTicks);
</script>
</body>
</html>
